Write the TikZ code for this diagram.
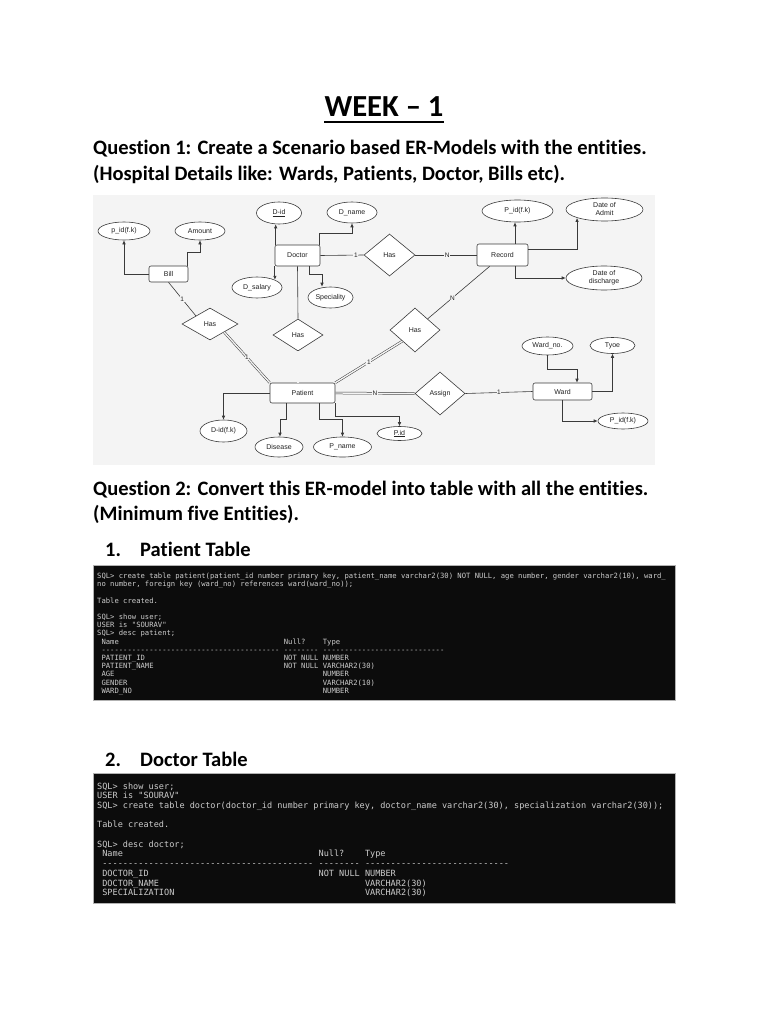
\documentclass[tikz,border=0pt]{standalone}
\usepackage{fontspec}
\setmainfont{Carlito}[Ligatures={TeX,NoCommon}]
\setsansfont{Liberation Sans}
\setmonofont{DejaVu Sans Mono}
\usetikzlibrary{shapes.geometric,arrows.meta,calc}
\definecolor{erbg}{HTML}{F4F4F4}
\definecolor{erline}{HTML}{3A3A3A}
\definecolor{ertext}{HTML}{222222}
\definecolor{sqlbg}{HTML}{0C0C0C}
\definecolor{sqltext}{HTML}{CCCCCC}
\newcommand\titlefont{\bfseries\fontsize{30.6}{36}\selectfont}
\newcommand\qfont{\bfseries\fontsize{20.5}{24}\selectfont}
\newcommand\erfont{\sffamily\fontsize{7}{8}\selectfont}
\newcommand\cardfont{\sffamily\fontsize{6.5}{7}\selectfont}
\newcommand\sqlAfont{\ttfamily\fontsize{7.21}{8}\selectfont}
\newcommand\sqlBfont{\ttfamily\fontsize{8.55}{9}\selectfont}
\newcommand\dashes[1]{\foreach \i in {1,...,#1}{-}}
\tikzset{
  ent/.style={draw=erline, line width=0.6pt, fill=white, rounded corners=2pt, inner sep=0pt, font=\erfont, text=ertext},
  rel/.style={diamond, draw=erline, line width=0.6pt, fill=white, inner sep=0pt, aspect=1, font=\erfont, text=ertext},
  att/.style={ellipse, draw=erline, line width=0.6pt, fill=white, inner sep=0pt, font=\erfont, text=ertext, align=center},
  arr/.style={draw=erline, line width=0.6pt, -{Latex[length=4pt,width=3.5pt]}},
  lnk/.style={draw=erline, line width=0.6pt},
  dbl/.style={draw=erline, line width=0.5pt, double=erbg, double distance=1.4pt},
  card/.style={fill=erbg, inner sep=0.6pt, font=\cardfont, text=ertext},
  head/.style={anchor=base west, font=\qfont, inner sep=0pt},
  sqlA/.style={anchor=base west, text=sqltext, font=\sqlAfont, inner sep=0pt},
  sqlB/.style={anchor=base west, text=sqltext, font=\sqlBfont, inner sep=0pt},
  sqlbox/.style={fill=sqlbg, draw=gray!60, line width=0.5pt}
}
\newcommand\sqla[3]{\node[sqlA] at ({97+#1*4.34},{578.5+#2*8.2}) {#3};}
\newcommand\sqlb[3]{\node[sqlB] at ({97+#1*5.15},{789+#2*9.7}) {#3};}
\begin{document}
\begin{tikzpicture}[x=1pt,y=-1pt]
\useasboundingbox (0,0) rectangle (768,1024);
\fill[white] (0,0) rectangle (768,1024);

% headings
\node[anchor=base, font=\titlefont, inner sep=0pt] (title) at (384,117) {WEEK – 1};
\draw[line width=1.8pt] ([yshift=-5pt]title.base west) -- ([yshift=-5pt]title.base east);
\node[head] (q1a) at (93,155) {Question 1: Create a Scenario based ER-Models with the entities.};
\node[head] (q1b) at (93,181) {(Hospital Details like: Wards, Patients, Doctor, Bills etc).};
\node[head] (q2a) at (93,495) {Question 2: Convert this ER-model into table with all the entities.};
\node[head] (q2b) at (93,520) {(Minimum five Entities).};
\node[head] (n1) at (105,556) {1.};
\node[head] (t1) at (140,556) {Patient Table};
\node[head] (n2) at (105,766) {2.};
\node[head] (t2) at (140,766) {Doctor Table};

% ER diagram
\fill[erbg] (93,195) rectangle (655,465);

\node[ent, minimum width=45, minimum height=21] (doctor) at (297.5,255.5) {Doctor};
\node[ent, minimum width=51, minimum height=22] (record) at (502.5,255) {Record};
\node[ent, minimum width=39, minimum height=16] (bill) at (168.5,274) {Bill};
\node[ent, minimum width=65, minimum height=20] (patient) at (302.5,393) {Patient};
\node[ent, minimum width=59, minimum height=17] (ward) at (562.5,391.5) {Ward};

\node[rel, minimum width=51, minimum height=42] (hasDR) at (389.5,255) {Has};
\node[rel, minimum width=56, minimum height=32] (hasBP) at (210,324) {Has};
\node[rel, minimum width=50, minimum height=32] (hasDP) at (298,335) {Has};
\node[rel, minimum width=50, minimum height=44] (hasRP) at (415,330) {Has};
\node[rel, minimum width=50, minimum height=43] (assign) at (440,393.5) {Assign};

\node[att, minimum width=45, minimum height=22] (did) at (279,213) {\underline{D-id}};
\node[att, minimum width=50, minimum height=21] (dname) at (352,212.5) {D\_name};
\node[att, minimum width=71, minimum height=22] (pidR) at (517.5,211) {P\_id(f.k)};
\node[att, minimum width=77, minimum height=23] (admit) at (604.5,209.5) {Date of\\Admit};
\node[att, minimum width=76, minimum height=24] (discharge) at (604,278) {Date of\\discharge};
\node[att, minimum width=52, minimum height=18] (pidB) at (124,231) {p\_id(f.k)};
\node[att, minimum width=50, minimum height=18] (amount) at (200,231) {Amount};
\node[att, minimum width=50, minimum height=21] (dsalary) at (257,287.5) {D\_salary};
\node[att, minimum width=45, minimum height=21] (speciality) at (330.5,297.5) {Speciality};
\node[att, minimum width=51, minimum height=18] (wardno) at (547.5,346) {Ward\_no.};
\node[att, minimum width=45, minimum height=16] (type) at (612.5,345.5) {Tyoe};
\node[att, minimum width=50, minimum height=16] (pidW) at (623,421) {P\_id(f.k)};
\node[att, minimum width=47, minimum height=22] (didfk) at (223.5,431) {D-id(f.k)};
\node[att, minimum width=48, minimum height=20] (disease) at (279,447) {Disease};
\node[att, minimum width=58, minimum height=20] (pname) at (342.5,447) {P\_name};
\node[att, minimum width=45, minimum height=14] (pid) at (399.5,433.5) {\underline{P.id}};

% attribute arrows
\draw[arr] (bill.west) -| (pidB.south);
\draw[arr] ([xshift=-1pt]bill.north east) |- ([yshift=-12pt]amount.south) -- (amount.south);
\draw[arr] ([xshift=1pt]doctor.north west) -- ([xshift=1pt]doctor.north west |- did.south);
\draw[arr, line width=0.9pt] (doctor.south west -| dsalary.north east) -- (dsalary.north east);
\draw[arr] ([xshift=-1pt]doctor.north east) |- ([yshift=-10pt]dname.south) -- (dname.south);
\draw[arr] ([xshift=11.5pt]doctor.south) |- ([xshift=-8.5pt,yshift=12pt]speciality.north) -- ([xshift=-8.5pt]speciality.north);
\draw[arr] ([xshift=12.5pt]record.north) -- ([xshift=12.5pt]record.north |- pidR.south);
\draw[arr, line width=0.9pt] ([yshift=6pt]record.east) -| (admit.south west);
\draw[arr] ([xshift=12.5pt]record.south) |- (discharge.west);
\draw[arr] (wardno.south) |- ([xshift=14.5pt,yshift=13pt]ward.north) -- ([xshift=14.5pt]ward.north);
\draw[arr] (ward.east) -| (type.south);
\draw[arr] (ward.south) |- (pidW.west);
\draw[arr] (patient.west) -| (didfk.north);
\draw[arr] ([xshift=-16.5pt]patient.south) |- ([xshift=1pt,yshift=17pt]disease.north) -- ([xshift=1pt]disease.north);
\draw[arr] ([xshift=16.5pt]patient.south) |- ([yshift=17pt]pname.north) -- (pname.north);
\draw[arr] (patient.south east) |- ([yshift=9.5pt]pid.north) -- (pid.north);

% relationship links
\draw[lnk] (doctor.east) -- node[card, pos=0.82] {1} (hasDR.west);
\draw[lnk] (hasDR.east) -- node[card, pos=0.52] {N} (record.west);
\draw[lnk] ([xshift=13pt]record.south west) -- node[card, pos=0.6] {N} (hasRP.north east);
\draw[dbl] (hasRP.south west) -- node[card, pos=0.5] {1} (patient.north east);
\draw[lnk] (doctor.south) -- (hasDP.north);
\draw[dbl] (hasDP.south) -- (hasDP.south |- patient.north);
\draw[lnk] (bill.south) -- node[card, pos=0.5] {1} (hasBP.north west);
\draw[dbl] (hasBP.south east) -- node[card, pos=0.5] {1} (patient.north west);
\draw[dbl] (patient.east) -- node[card, pos=0.5] {N} (assign.west);
\draw[lnk] (assign.east) -- node[card, pos=0.5] {1} (ward.west);

% SQL box 1
\path[sqlbox] (93,565) rectangle (675,700);
\sqla{0}{0}{SQL> create table patient(patient\_id number primary key, patient\_name varchar2(30) NOT NULL, age number, gender varchar2(10), ward\_}
\sqla{0}{1}{no number, foreign key (ward\_no) references ward(ward\_no));}
\sqla{0}{3}{Table created.}
\sqla{0}{5}{SQL> show user;}
\sqla{0}{6}{USER is "SOURAV"}
\sqla{0}{7}{SQL> desc patient;}
\sqla{1}{8}{Name}
\sqla{43}{8}{Null?}
\sqla{52}{8}{Type}
\sqla{1}{9}{\dashes{41}}
\sqla{43}{9}{\dashes{8}}
\sqla{52}{9}{\dashes{28}}
\sqla{1}{10}{PATIENT\_ID}
\sqla{43}{10}{NOT NULL}
\sqla{52}{10}{NUMBER}
\sqla{1}{11}{PATIENT\_NAME}
\sqla{43}{11}{NOT NULL}
\sqla{52}{11}{VARCHAR2(30)}
\sqla{1}{12}{AGE}
\sqla{52}{12}{NUMBER}
\sqla{1}{13}{GENDER}
\sqla{52}{13}{VARCHAR2(10)}
\sqla{1}{14}{WARD\_NO}
\sqla{52}{14}{NUMBER}

% SQL box 2
\path[sqlbox] (93,773) rectangle (675,903);
\sqlb{0}{0}{SQL> show user;}
\sqlb{0}{1}{USER is "SOURAV"}
\sqlb{0}{2}{SQL> create table doctor(doctor\_id number primary key, doctor\_name varchar2(30), specialization varchar2(30));}
\sqlb{0}{4}{Table created.}
\sqlb{0}{6}{SQL> desc doctor;}
\sqlb{1}{7}{Name}
\sqlb{43}{7}{Null?}
\sqlb{52}{7}{Type}
\sqlb{1}{8}{\dashes{41}}
\sqlb{43}{8}{\dashes{8}}
\sqlb{52}{8}{\dashes{28}}
\sqlb{1}{9}{DOCTOR\_ID}
\sqlb{43}{9}{NOT NULL}
\sqlb{52}{9}{NUMBER}
\sqlb{1}{10}{DOCTOR\_NAME}
\sqlb{52}{10}{VARCHAR2(30)}
\sqlb{1}{11}{SPECIALIZATION}
\sqlb{52}{11}{VARCHAR2(30)}
\end{tikzpicture}
\end{document}
